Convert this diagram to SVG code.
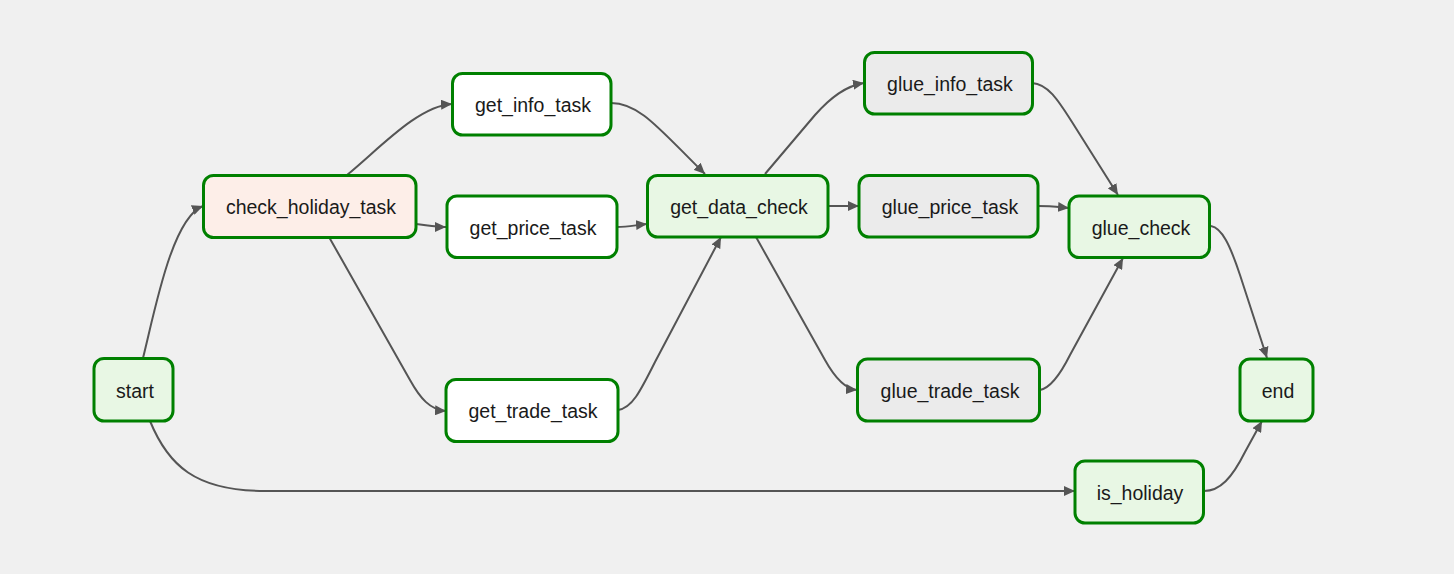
<svg xmlns="http://www.w3.org/2000/svg" width="1454" height="574" viewBox="0 0 1454 574">
<style>
.n rect{stroke:#008000;stroke-width:3}
.n text{font-family:"Liberation Sans",Arial,sans-serif;font-size:19.5px;fill:#1a1a1a;text-anchor:middle}
.g{fill:#e8f7e4}.w{fill:#ffffff}.p{fill:#fdeee8}.gr{fill:#ebebeb}
#edges path{fill:none;stroke:#555;stroke-width:2;marker-end:url(#ah)}
</style>
<defs>
<marker id="ah" markerUnits="userSpaceOnUse" markerWidth="11" markerHeight="10" refX="11" refY="5" orient="auto" viewBox="0 0 11 10">
<path d="M0,0 L11,5 L0,10 z" fill="#555"/>
</marker>
</defs>
<rect width="1454" height="574" fill="#f0f0f0"/>
<g id="edges">
<path d="M143,358 C155,310 172,218 203,206"/>
<path d="M347,175 C380,148 418,106 452,104"/>
<path d="M416,224 C426,225 435,227 446,227"/>
<path d="M329,237 L410,380 C420,398 430,410 446,411"/>
<path d="M611,103 C640,103 660,130 705,174"/>
<path d="M617,227 C628,227 636,225 647,224"/>
<path d="M618,410 C632,408 640,392 655,362 L721,237"/>
<path d="M765,174 L815,115 C830,98 845,86 864,83"/>
<path d="M828,206 L859,206"/>
<path d="M756,237 L825,360 C835,378 845,389 857,390"/>
<path d="M1032,83 C1048,84 1058,100 1072,122 L1118,195"/>
<path d="M1038,206 C1050,206 1058,207 1069,208"/>
<path d="M1040,390 C1050,388 1060,375 1070,355 L1123,258"/>
<path d="M1211,226 C1222,228 1230,245 1240,275 L1267,358"/>
<path d="M1204,491 C1220,491 1232,478 1245,452 L1262,421"/>
<path d="M150,421 C168,465 195,491 265,491 L1075,491"/>
</g>
<g id="start" class="n"><rect class="g" x="94" y="358.5" width="79" height="62.5" rx="10"/><text x="135" y="398">start</text></g>
<g id="check_holiday_task" class="n"><rect class="p" x="203.5" y="175.5" width="212.5" height="62" rx="10"/><text x="311" y="214">check_holiday_task</text></g>
<g id="get_info_task" class="n"><rect class="w" x="452.5" y="73.5" width="158.5" height="61.5" rx="10"/><text x="533" y="112">get_info_task</text></g>
<g id="get_price_task" class="n"><rect class="w" x="447" y="196" width="170" height="61.5" rx="10"/><text x="533" y="235">get_price_task</text></g>
<g id="get_trade_task" class="n"><rect class="w" x="446" y="379.5" width="172" height="62" rx="10"/><text x="533" y="418">get_trade_task</text></g>
<g id="get_data_check" class="n"><rect class="g" x="647.5" y="175.5" width="180.5" height="61.5" rx="10"/><text x="739" y="214">get_data_check</text></g>
<g id="glue_info_task" class="n"><rect class="gr" x="864.5" y="52.5" width="168" height="61.5" rx="10"/><text x="950" y="91">glue_info_task</text></g>
<g id="glue_price_task" class="n"><rect class="gr" x="859" y="175.5" width="179" height="61.5" rx="10"/><text x="950" y="214">glue_price_task</text></g>
<g id="glue_trade_task" class="n"><rect class="gr" x="857.5" y="359" width="182" height="62" rx="10"/><text x="950" y="398">glue_trade_task</text></g>
<g id="glue_check" class="n"><rect class="g" x="1069" y="196" width="140.5" height="61.5" rx="10"/><text x="1141" y="235">glue_check</text></g>
<g id="end" class="n"><rect class="g" x="1240" y="359" width="73" height="62" rx="10"/><text x="1278" y="398">end</text></g>
<g id="is_holiday" class="n"><rect class="g" x="1075" y="461" width="128.5" height="62" rx="10"/><text x="1140" y="500">is_holiday</text></g>
</svg>
